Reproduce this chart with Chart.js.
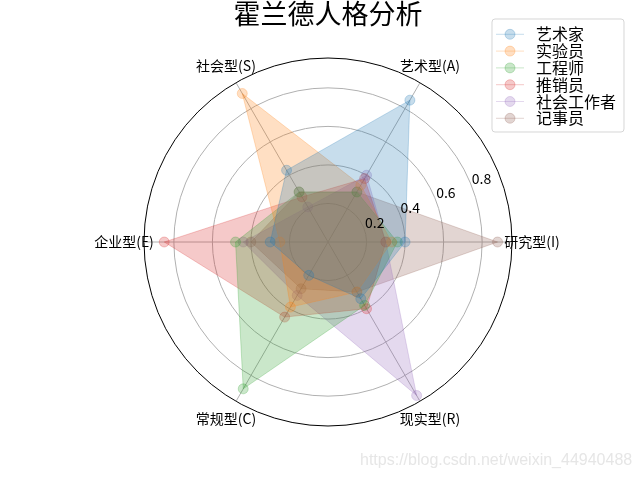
<!DOCTYPE html>
<html>
<head>
<meta charset="utf-8">
<script src="https://cdn.jsdelivr.net/npm/chart.js@4.4.1/dist/chart.umd.min.js"></script>
<style>
    html, body { margin: 0; padding: 0; background: #ffffff; }
    #wrap { position: relative; width: 640px; height: 480px; }
</style>
</head>
<body>
<div id="wrap"><canvas id="hollandChart" width="640" height="480"></canvas></div>
<script>
// Axis order as Chart.js walks it (clockwise from the right)
const categories = ['研究型(I)', '现实型(R)', '常规型(C)', '企业型(E)', '社会型(S)', '艺术型(A)'];
const seriesNames = ['艺术家', '实验员', '工程师', '推销员', '社会工作者', '记事员'];

const artistValues     = [0.40, 0.34, 0.20, 0.30, 0.43, 0.85];
const labValues        = [0.33, 0.30, 0.39, 0.25, 0.89, 0.34];
const engineerValues   = [0.36, 0.38, 0.88, 0.48, 0.30, 0.30];
const salesValues      = [0.30, 0.40, 0.45, 0.85, 0.27, 0.38];
const socialValues     = [0.30, 0.92, 0.32, 0.44, 0.21, 0.40];
const clerkValues      = [0.88, 0.30, 0.28, 0.40, 0.30, 0.30];

const tickValues = [0, 0.2, 0.4, 0.6, 0.8];
const rMax = 0.955;

const seriesColors = ['31, 119, 180', '255, 127, 14', '44, 160, 44', '214, 39, 40', '148, 103, 189', '140, 86, 75'];
const allValues = [artistValues, labValues, engineerValues, salesValues, socialValues, clerkValues];

const cjkFont = '"Noto Sans CJK SC", "Noto Sans", sans-serif';

function rgba(c, a) {
    return 'rgba(' + c + ', ' + a + ')';
}

const datasets = seriesNames.map((name, i) => ({
    label: name,
    data: allValues[i],
    fill: true,
    backgroundColor: rgba(seriesColors[i], 0.25),
    borderColor: rgba(seriesColors[i], 0.25),
    borderWidth: 1,
    pointRadius: 5,
    pointBackgroundColor: rgba(seriesColors[i], 0.25),
    pointBorderColor: rgba(seriesColors[i], 0.25),
    pointBorderWidth: 1
}));

// Point labels, tick labels (at 22.5 deg), legend and watermark
const extrasPlugin = {
    id: 'extras',
    afterDraw(chart) {
        const ctx = chart.ctx;
        const scale = chart.scales.r;
        ctx.save();

        // category labels centred just outside the outer ring
        ctx.font = '14px ' + cjkFont;
        ctx.fillStyle = '#000000';
        ctx.textAlign = 'center';
        ctx.textBaseline = 'middle';
        categories.forEach((label, i) => {
            const pos = scale.getPointPosition(i, scale.drawingArea + 20);
            ctx.fillText(label, pos.x, pos.y);
        });

        // radial tick labels
        const ang = 22.5 * Math.PI / 180;
        tickValues.slice(1).forEach(v => {
            const d = scale.getDistanceFromCenterForValue(v) + 12;
            ctx.fillText(v.toFixed(1), scale.xCenter + d * Math.cos(ang), scale.yCenter - d * Math.sin(ang));
        });

        // legend box
        const lx = 492, ly = 19, lw = 132, lh = 113;
        ctx.beginPath();
        ctx.roundRect(lx, ly, lw, lh, 3);
        ctx.fillStyle = 'rgba(255, 255, 255, 0.8)';
        ctx.fill();
        ctx.strokeStyle = 'rgba(204, 204, 204, 0.8)';
        ctx.lineWidth = 1;
        ctx.stroke();

        ctx.font = '16px ' + cjkFont;
        ctx.textAlign = 'left';
        chart.data.datasets.forEach((ds, i) => {
            const y = 34.3 + i * 16.8;
            ctx.strokeStyle = ds.borderColor;
            ctx.beginPath();
            ctx.moveTo(496, y);
            ctx.lineTo(524, y);
            ctx.stroke();
            ctx.beginPath();
            ctx.arc(510, y, 5, 0, Math.PI * 2);
            ctx.fillStyle = ds.pointBackgroundColor;
            ctx.fill();
            ctx.stroke();
            ctx.fillStyle = '#000000';
            ctx.fillText(ds.label, 536, y);
        });

        // watermark
        ctx.font = '16px "Liberation Sans", Arial, sans-serif';
        ctx.fillStyle = '#e6e6e6';
        ctx.fillText('https://blog.csdn.net/weixin_44940488', 360, 461);

        ctx.restore();
    }
};

const holland = new Chart(document.getElementById('hollandChart'), {
    type: 'radar',
    data: {
        labels: categories,
        datasets: datasets
    },
    options: {
        responsive: false,
        animation: false,
        devicePixelRatio: 1,
        layout: {
            padding: { top: 0, left: 128, right: 112, bottom: 54 }
        },
        elements: {
            line: { tension: 0 }
        },
        plugins: {
            legend: { display: false },
            tooltip: { enabled: false },
            title: {
                display: true,
                text: '霍兰德人格分析',
                color: '#000000',
                fullSize: false,
                font: { family: cjkFont, size: 27, weight: 'normal', lineHeight: 1.0 },
                padding: { top: 0, bottom: 31 }
            }
        },
        scales: {
            r: {
                startAngle: 90,
                min: 0,
                max: rMax,
                afterBuildTicks: (scale) => {
                    scale.ticks = tickValues.map(v => ({ value: v })).concat([{ value: rMax }]);
                },
                ticks: { display: false },
                pointLabels: { display: false },
                grid: {
                    circular: true,
                    color: (c) => (c.tick && c.tick.value >= rMax - 1e-6) ? '#000000' : '#b0b0b0',
                    lineWidth: 1
                },
                angleLines: {
                    color: '#b0b0b0',
                    lineWidth: 1
                }
            }
        }
    },
    plugins: [extrasPlugin]
});
</script>
</body>
</html>
